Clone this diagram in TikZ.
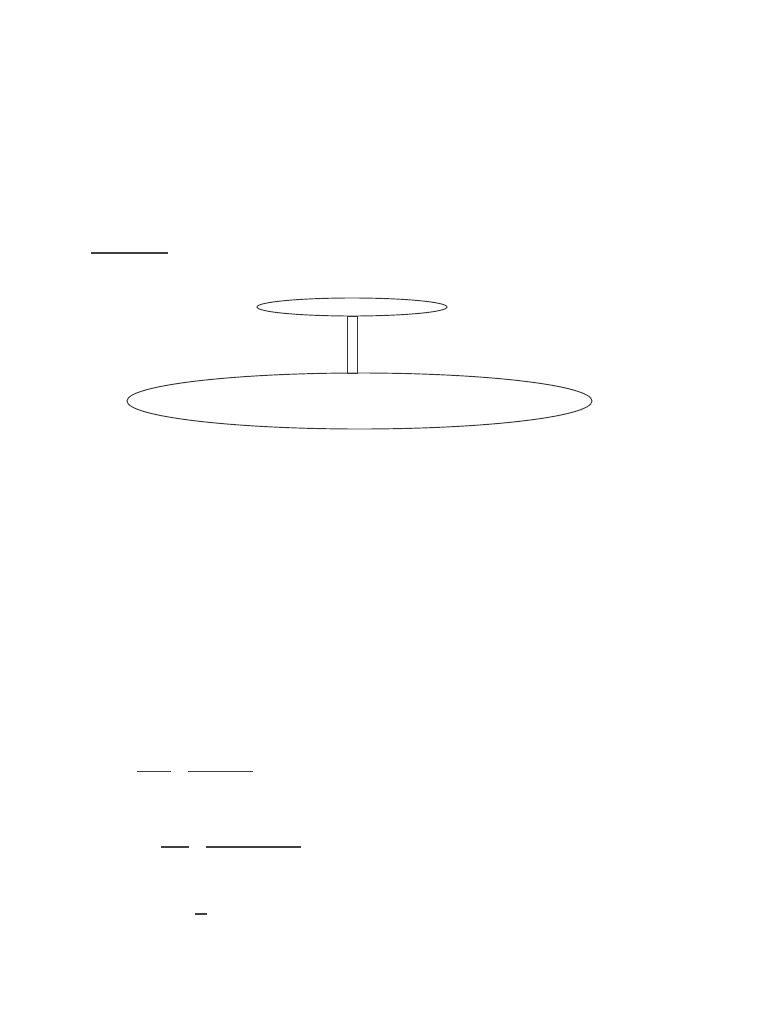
\documentclass[tikz,border=0pt]{standalone}
\usetikzlibrary{shapes.geometric}
\begin{document}
\begin{tikzpicture}[x=0.75pt,y=-0.75pt,
  oval/.style={draw=black!80,line width=0.7pt,ellipse,inner sep=0pt},
  stem/.style={draw=black!80,line width=0.7pt,rectangle,inner sep=0pt},
  rule/.style={draw=black!75,line width=0.9pt}]
\useasboundingbox[fill=white] (0,0) rectangle (768,1024);
\draw[rule,line width=1.4pt] (91,253) -- (168,253);
\node[oval,minimum width=190*0.75pt,minimum height=18*0.75pt] (top) at (352,307) {};
\node[stem,minimum width=10*0.75pt,minimum height=57*0.75pt] (pole) at (352,344.5) {};
\node[oval,minimum width=465*0.75pt,minimum height=56*0.75pt] (base) at (359.5,401) {};
\draw[rule] (137,771.5) -- (171,771.5);
\draw[rule] (188,771.5) -- (253,771.5);
\draw[rule] (161,847) -- (189,847);
\draw[rule] (206,847) -- (301,847);
\draw[rule] (195,914) -- (207,914);
\end{tikzpicture}
\end{document}
